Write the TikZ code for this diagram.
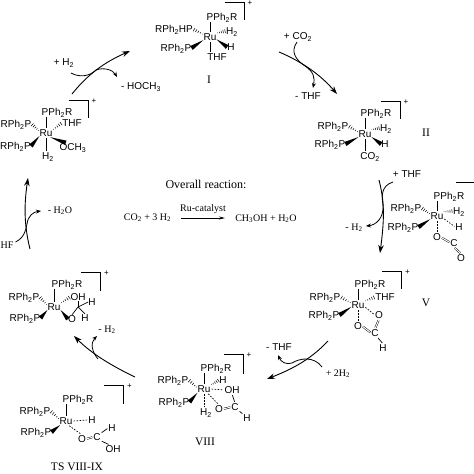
\documentclass[tikz,border=0pt]{standalone}
\usepackage{fontspec}
\setmainfont{Liberation Serif}
\setsansfont{Liberation Sans}
\usetikzlibrary{arrows.meta,calc}
\newcommand\subt[1]{\textsubscript{#1}}
\newcommand\hashw[2]{\foreach \hT/\hW in {0.1/0.3,0.3/0.7,0.5/1.1,0.7/1.5,0.9/1.9}{\draw[line width=0.5pt] ($(#1)!\hT!(#2)!\hW pt!90:(#2)$) -- ($(#1)!\hT!(#2)!\hW pt!-90:(#2)$);}}
\newcommand\wedgeb[2]{\fill (#1) -- ($(#2)!2.3pt!90:(#1)$) -- ($(#2)!2.3pt!-90:(#1)$) -- cycle;}
\newcommand\brkt[4]{\coordinate (#1a) at (#2,#3); \coordinate (#1b) at (#2+19.5,#3); \coordinate (#1c) at (#2+19.5,#3+#4); \draw[brk] (#1a) -- (#1b) -- (#1c); \node[plus] (#1p) at (#2+25.5,#3+1.5) {+};}
\tikzset{
 lab/.style={inner sep=0pt,font=\fontsize{10}{12}\sffamily,text height=7.5pt,text depth=0.5pt},
 ser/.style={inner sep=0pt,font=\fontsize{10}{12}\rmfamily,text height=7.5pt,text depth=1pt},
 numb/.style={inner sep=0pt,font=\fontsize{11.5}{13}\rmfamily,text height=7.5pt,text depth=1pt},
 plus/.style={inner sep=0pt,font=\fontsize{8}{9}\sffamily},
 bond/.style={line width=0.7pt,shorten >=1pt,shorten <=1pt},
 bdash/.style={line width=0.7pt,dash pattern=on 1.5pt off 1.5pt,shorten >=1pt,shorten <=1pt},
 dbond/.style={line width=0.45pt,double,double distance=1pt,shorten >=1pt,shorten <=1pt},
 brk/.style={line width=0.9pt},
 rxn/.style={line width=0.9pt,-{Stealth[length=8pt,width=5.5pt]}},
 side/.style={line width=0.8pt,-{Stealth[length=5pt,width=4pt]}},
}
\begin{document}
\begin{tikzpicture}[x=1pt,y=-1pt]
\useasboundingbox (0,0) rectangle (474,474);
% ---- I
\node[lab] (ru1) at (210,37) {Ru};
\node[lab] (p1) at (222,17) {PPh\subt2R};
\node[lab] (a1) at (174,29) {RPh\subt2HP};
\node[lab] (h1) at (232,31) {H\subt2};
\node[lab] (b1) at (176,48) {RPh\subt2P};
\node[lab] (hh1) at (231,47) {H};
\node[lab] (t1) at (217,57) {THF};
\node[numb] (n1) at (209,80) {I};
\draw[bond] (ru1.north) -- (ru1.north |- p1.south);
\draw[bond] (ru1.south) -- (ru1.south |- t1.north);
\hashw{ru1.160}{a1.east}
\hashw{ru1.30}{h1.west}
\wedgeb{ru1.205}{b1.east}
\wedgeb{ru1.-20}{hh1.west}
\brkt{k1}{224.5}{2}{18}
% ---- II
\node[lab] (ru2) at (365,134) {Ru};
\node[lab] (p2) at (376,113) {PPh\subt2R};
\node[lab] (a2) at (333,126) {RPh\subt2P};
\node[lab] (h2) at (386,128) {H\subt2};
\node[lab] (b2) at (330,144) {RPh\subt2P};
\node[lab] (hh2) at (385,144) {H};
\node[lab] (c2) at (370,156) {CO\subt2};
\node[numb] (n2) at (426,133) {II};
\draw[bond] (ru2.north) -- (ru2.north |- p2.south);
\draw[bond] (ru2.south) -- (ru2.south |- c2.north);
\hashw{ru2.165}{a2.east}
\hashw{ru2.35}{h2.west}
\wedgeb{ru2.205}{b2.east}
\wedgeb{ru2.-25}{hh2.west}
\brkt{k2}{380.5}{101}{18}
% ---- III
\node[lab] (ru3) at (437,216) {Ru};
\node[lab] (p3) at (449,196) {PPh\subt2R};
\node[lab] (a3) at (406,208) {RPh\subt2P};
\node[lab] (h3) at (459,211) {H\subt2};
\node[lab] (b3) at (403,227) {RPh\subt2P};
\node[lab] (hh3) at (459,227) {H};
\node[lab] (o3) at (437,237) {O};
\node[lab] (c3) at (454,243) {C};
\node[lab] (oo3) at (461,258) {O};
\draw[bond] (ru3.north) -- (ru3.north |- p3.south);
\draw[bdash] (ru3.south) -- (o3.north);
\draw[bdash] (ru3.-20) -- (hh3.west);
\hashw{ru3.165}{a3.east}
\hashw{ru3.35}{h3.west}
\wedgeb{ru3.205}{b3.east}
\draw[dbond] (o3.-5) -- (c3.175);
\draw[dbond] (c3.south) -- (oo3.north);
\coordinate (k3a) at (456,182); \coordinate (k3b) at (474,182);
\draw[brk] (k3a) -- (k3b);
% ---- V
\node[lab] (ru5) at (358,305) {Ru};
\node[lab] (p5) at (370,284) {PPh\subt2R};
\node[lab] (a5) at (325,297) {RPh\subt2P};
\node[lab] (t5) at (385,297) {THF};
\node[lab] (b5) at (324,315) {RPh\subt2P};
\node[lab] (o5) at (379,315) {O};
\node[lab] (oo5) at (358,326) {O};
\node[lab] (c5) at (375,333) {C};
\node[lab] (h5) at (383,348) {H};
\node[numb] (n5) at (426,303) {V};
\draw[bond] (ru5.north) -- (ru5.north |- p5.south);
\draw[bdash] (ru5.south) -- (oo5.north);
\draw[bdash] (ru5.-15) -- (o5.west);
\hashw{ru5.165}{a5.east}
\hashw{ru5.30}{t5.west}
\wedgeb{ru5.195}{b5.east}
\draw[dbond] (o5.south) -- (c5.north);
\draw[dbond] (oo5.east) -- (c5.west);
\draw[bond] (c5.-60) -- (h5.north);
\brkt{k5}{382}{271}{18}
% ---- VIII
\node[lab] (ru8) at (204,389) {Ru};
\node[lab] (p8) at (216,368) {PPh\subt2R};
\node[lab] (a8) at (173,380) {RPh\subt2P};
\node[lab] (h8) at (223,380) {H};
\node[lab] (oh8) at (232,390) {OH};
\node[lab] (b8) at (174,402) {RPh\subt2P};
\node[lab] (d8) at (206,412) {H\subt2};
\node[lab] (o8) at (219,409) {O};
\node[lab] (c8) at (235,407) {C};
\node[lab] (hh8) at (247,418) {H};
\node[numb] (n8) at (205,442) {VIII};
\draw[bond] (ru8.north) -- (ru8.north |- p8.south);
\draw[bdash] (ru8.east) -- (oh8.west);
\draw[bdash] (ru8.-50) -- (o8.north);
\draw[bdash] (ru8.south) -- (ru8.south |- d8.north);
\hashw{ru8.170}{a8.east}
\hashw{ru8.30}{h8.west}
\wedgeb{ru8.210}{b8.east}
\draw[bond] (oh8.south) -- (c8.north);
\draw[dbond] (o8.east) -- (c8.west);
\draw[bond] (c8.-45) -- (hh8.135);
\brkt{k8}{223.5}{354}{20}
% ---- IX
\node[lab] (ru9) at (54,307) {Ru};
\node[lab] (p9) at (67,284) {PPh\subt2R};
\node[lab] (a9) at (24,297) {RPh\subt2P};
\node[lab] (b9) at (25,318) {RPh\subt2P};
\node[lab] (oh9) at (78,297) {OH};
\node[lab] (hr9) at (92,302) {H};
\node[lab] (o9) at (72,319) {O};
\node[lab] (hb9) at (85,318) {H};
\coordinate (c9) at (78,307);
\draw[bond] (ru9.north) -- (ru9.north |- p9.south);
\hashw{ru9.165}{a9.east}
\hashw{ru9.30}{oh9.west}
\wedgeb{ru9.205}{b9.east}
\wedgeb{ru9.-25}{o9.west}
\draw[line width=0.7pt] (oh9.south) -- (c9);
\draw[line width=0.7pt] (c9) -- (hr9.west);
\draw[line width=0.7pt] (c9) -- (o9.north);
\draw[line width=0.7pt] (c9) -- (hb9.north);
\brkt{k9}{81}{272}{19}
% ---- TS
\node[lab] (ruts) at (66,421) {Ru};
\node[lab] (pts) at (78,399) {PPh\subt2R};
\node[lab] (ats) at (35,411) {RPh\subt2P};
\node[lab] (bts) at (36,432) {RPh\subt2P};
\node[lab] (hts) at (92,420) {H};
\node[lab] (ots) at (82,439) {O};
\node[lab] (cts) at (97,437) {C};
\node[lab] (hcts) at (112,428) {H};
\node[lab] (ohts) at (113,449) {OH};
\node[numb] (nts) at (77,467) {TS VIII-IX};
\draw[bond] (ruts.north) -- (ruts.north |- pts.south);
\draw[bdash] (ruts.east) -- (hts.west);
\draw[bdash] (ruts.-60) -- (ots.north);
\hashw{ruts.165}{ats.east}
\wedgeb{ruts.215}{bts.east}
\draw[dbond] (ots.east) -- (cts.west);
\draw[bond] (cts.45) -- (hcts.west);
\draw[bond] (cts.-45) -- (ohts.130);
\brkt{kts}{104}{385}{19}
% ---- IV
\node[lab] (ru4) at (46,133) {Ru};
\node[lab] (p4) at (57,112) {PPh\subt2R};
\node[lab] (a4) at (16,124) {RPh\subt2P};
\node[lab] (t4) at (72,123) {THF};
\node[lab] (b4) at (15.5,146) {RPh\subt2P};
\node[lab] (o4) at (73,147) {OCH\subt3};
\node[lab] (d4) at (48,156) {H\subt2};
\draw[bond] (ru4.north) -- (ru4.north |- p4.south);
\draw[bond] (ru4.south) -- (ru4.south |- d4.north);
\hashw{ru4.165}{a4.east}
\hashw{ru4.25}{t4.west}
\wedgeb{ru4.205}{b4.east}
\wedgeb{ru4.-45}{o4.150}
\brkt{k4}{68.5}{100}{18}
% ---- centre
\node[numb,font=\fontsize{12}{14}\rmfamily] (ov) at (206,185) {Overall reaction:};
\node[ser] (r0) at (147.5,217) {CO\subt2 + 3 H\subt2};
\node[ser] (cat) at (203,208) {Ru-catalyst};
\node[ser] (r1) at (266,218) {CH\subt3OH + H\subt2O};
\coordinate (cas) at (181,218); \coordinate (cae) at (225,218);
\draw[line width=0.8pt,-{Stealth[length=6pt,width=3pt]}] (cas) -- (cae);
% ---- arrow I -> II
\coordinate (m12s) at (279,52); \coordinate (m12e) at (337,94);
\draw[rxn] (m12s) .. controls (298,60) and (318,72) .. (m12e);
\node[lab] (tco2) at (298,36) {+ CO\subt2};
\node[lab] (tthf2) at (308,96) {- THF};
\coordinate (s12s) at (297,42); \coordinate (s12e) at (313,88);
\draw[side] (s12s) .. controls (290,52) and (296,60) .. (305,66) .. controls (314,72) and (315,78) .. (s12e);
% ---- arrow II -> III
\coordinate (m23s) at (379,180); \coordinate (m23e) at (380,253);
\draw[rxn] (m23s) .. controls (384,200) and (385,215) .. (m23e);
\node[lab] (tthf3) at (407,174) {+ THF};
\node[ser] (th23) at (354,227) {- H\subt2};
\coordinate (s23s) at (393,182); \coordinate (s23e) at (366,226);
\draw[side] (s23s) .. controls (380,186) and (382,198) .. (383,205) .. controls (384,218) and (376,225) .. (s23e);
% ---- arrow V -> VIII
\coordinate (m58s) at (328,341); \coordinate (m58e) at (267,379);
\draw[rxn] (m58s) .. controls (312,358) and (295,368) .. (m58e);
\node[ser] (t2h) at (338,373) {+ 2H\subt2};
\node[lab] (tthf8) at (279,347) {- THF};
\coordinate (s58s) at (322,367); \coordinate (s58e) at (278,355);
\draw[side] (s58s) .. controls (314,356) and (300,358) .. (292,363) .. controls (286,365) and (281,362) .. (s58e);
% ---- arrow VIII -> IX
\coordinate (m89s) at (135,377); \coordinate (m89e) at (74,336);
\draw[rxn] (m89s) .. controls (112,366) and (92,354) .. (m89e);
\node[ser] (th9) at (107,329) {- H\subt2};
\coordinate (s89s) at (98,359); \coordinate (s89e) at (97,336);
\draw[side] (s89s) .. controls (92,352) and (90,343) .. (s89e);
% ---- arrow IX -> IV
\coordinate (m94s) at (30,249); \coordinate (m94e) at (28,178);
\draw[rxn] (m94s) .. controls (24,225) and (24,205) .. (m94e);
\node[ser] (th2o) at (60,210) {- H\subt2O};
\node[ser] (thf0) at (7,245) {HF};
\coordinate (s94s) at (15.5,242); \coordinate (s94e) at (41,211);
\draw[side] (s94s) .. controls (24,238) and (26,230) .. (27,224) .. controls (28,216) and (33,212) .. (s94e);
% ---- arrow IV -> I
\coordinate (m41s) at (72,94); \coordinate (m41e) at (130,51);
\draw[rxn] (m41s) .. controls (88,74) and (105,62) .. (m41e);
\node[lab] (th1) at (64,62) {+ H\subt2};
\node[lab] (tmeoh) at (141,86) {- HOCH\subt3};
\coordinate (s41s) at (71,73); \coordinate (s41e) at (117,77);
\draw[side] (s41s) .. controls (80,78) and (90,76) .. (96,70) .. controls (104,67) and (113,70) .. (s41e);
\end{tikzpicture}
\end{document}
